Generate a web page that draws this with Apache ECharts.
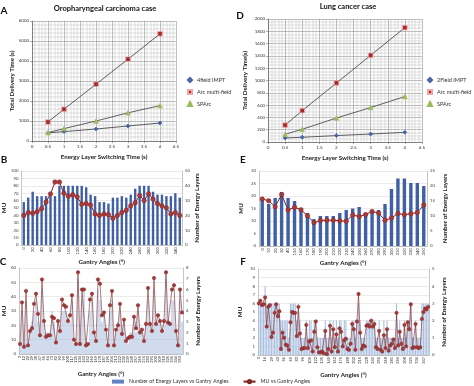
<!DOCTYPE html>
<html><head><meta charset="utf-8">
<script src="https://cdn.jsdelivr.net/npm/echarts@6/dist/echarts.min.js"></script>
<style>html,body{margin:0;padding:0;background:#fff}#c{width:474px;height:386px}</style>
</head><body><div id="c"></div>
<script>
// ---- Panel A / D data ----
const switchTimes = [0.5, 1, 2, 3, 4];
const a4fieldIMPT = [405, 470, 600, 750, 900];
const aArcMulti = [950, 1590, 2840, 4090, 5360];
const aSPArc = [420, 620, 1000, 1410, 1770];
const d2FieldIMPT = [66, 77, 104, 130, 157];
const dArcMulti = [275, 510, 960, 1410, 1860];
const dSPArc = [125, 207, 390, 560, 740];
// ---- Panel B ----
const bAngles = ['0','10','20','30','40','50','60','70','80','90','100','110','120','130','140','150','160','170','180','190','200','210','220','230','240','250','260','270','280','290','300','310','320','330','340','350'];
const bLayers = [29,32,36,33,33,33,33,33,40,40,40,40,40,40,39,34,33,29,29,28,32,32,33,32,34,38,40,40,40,36,34,34,33,33,35,32];
const bMU = [40,44,43,45,49,58,69,85,85,70,66,68,65,55,56,54,42,40,42,41,36,40,44,47,53,57,67,60,69,62,56,53,50,42,44,40];
// ---- Panel E ----
const eAngles = ['0','10','20','30','40','150','160','170','180','190','200','210','220','230','240','250','260','270','280','290','300','310','320','330','340','350'];
const eLayers = [16,14,16,18,16,15,12.5,11,9,10,10,10,11,12,12.5,13,11,12,12,14,19,22.5,22.5,21,21,20];
const eMU = [18.8,18.1,15.7,20.6,14.4,15.5,14.5,12.1,9.3,10.2,10.3,10.3,10.1,9.9,12.4,11.8,12.6,13.8,13.2,10.3,11.2,13.0,12.5,12.9,13.4,16.4];
// ---- Panel C ----
const cAngles = ['3','7','12','16','20','25','29','34','38','42','47','51','55','60','64','69','73','77','82','86','90','95','99','104','108','112','117','121','125','130','134','139','143','147','152','156','160','165','169','173','178','182','187','191','195','200','204','208','213','217','222','226','230','235','239','243','248','252','257','261','265','270','274','278','283','287','291','296','300','305','309','313','318','322','326','331','335','340','344','348','353','357'];
const cMU = [7,36,5,44,6,16,18,35,42,28,13,52,23,12,13,13,26,25,8,23,16,38,34,33,23,27,41,10,7,57,7,45,45,6,7,38,42,15,9,52,49,27,29,17,6,34,44,6,17,20,35,14,24,9,11,12,12,26,18,34,15,17,9,21,46,21,16,53,21,27,23,16,23,57,22,21,45,48,16,6,45,29];
const cLayers = [1,4,1,5,1,2,3,4,5,3,2,6,3,2,2,2,4,3,1,3,2,4,4,4,3,3,5,1,1,7,1,5,6,1,1,4,5,2,1,6,5,3,4,2,1,4,5,1,2,3,4,2,3,1,1,2,2,3,2,4,2,2,1,3,5,3,2,6,3,3,3,2,3,7,3,3,5,5,2,1,5,3];
// ---- Panel F ----
const fAngles = ['3','6','10','13','16','20','23','26','29','33','36','39','43','46','49','53','56','59','63','66','69','73','76','79','82','86','89','92','96','99','102','106','109','112','116','119','122','125','129','132','135','139','142','145','149','152','155','159','162','165','169','172','175','178','182','185','188','192','195','198','202','205','208','212','215','218','221','225','228','231','235','238','241','245','248','251','255','258','261','265','268','271','274','278','281','284','288','291','294','298','301','304','308','311','314','317','321','324','327','331','334','337','341','344','347','351','354','357'];
const fMU = [6.0,6.3,5.8,5.9,6.7,3.3,5.6,5.8,2.1,2.6,4.9,5.9,4.5,5.1,0.7,2.6,2.0,1.2,1.1,0.6,3.8,5.0,4.9,4.9,2.2,5.6,2.5,0.7,0.8,0.8,3.5,0.8,1.6,1.7,0.4,2.7,3.9,0.9,0.3,0.3,0.4,0.2,2.8,0.1,0.7,3.4,0.4,3.0,0.9,2.4,0.4,3.1,2.7,1.0,1.7,1.9,0.7,0.6,1.3,3.6,3.0,0.6,3.9,7.1,2.6,0.7,1.1,1.0,3.4,3.5,3.3,4.0,3.3,3.6,0.9,0.7,2.8,0.6,0.4,2.3,0.8,3.0,0.5,1.1,1.3,1.8,0.8,4.9,1.1,2.7,1.3,0.7,3.5,1.0,3.8,3.0,5.9,0.8,0.9,3.6,0.9,0.8,0.9,4.2,5.0,5.4,5.3,5.6];
const fLayers = [3,3,3,3,4,3,3,3,3,3,3,3,3,3,2,2,2,2,2,1,3,3,3,3,2,3,2,1,1,1,2,1,2,2,1,2,2,1,1,1,1,1,2,1,1,2,1,2,1,2,1,2,2,1,2,2,1,1,1,2,2,1,2,3,2,1,1,1,2,2,2,2,2,2,1,1,2,1,1,2,1,2,1,1,1,1,1,3,1,2,1,1,2,1,2,2,3,1,1,2,1,1,1,3,3,3,3,3];

const FONT = 'Lato';
const NAME_LAYERS = 'Number of Energy Layers vs Gantry Angles';
const NAME_MU = 'MU vs Gantry Angles';
const plain = v => String(v);

function pairs(xs, ys){ return xs.map((x,i)=>[x, ys[i]]); }

function valX(grid){
  return {type:'value', gridIndex:grid, min:0, max:4.5, interval:0.5,
    name:'Energy Layer Switching Time (s)', nameLocation:'middle', nameGap:13,
    nameTextStyle:{fontFamily:FONT, fontWeight:'bold', fontSize:6.2, color:'#222'},
    axisLine:{lineStyle:{color:'#555', width:0.6}}, axisTick:{show:true, length:2, lineStyle:{color:'#555',width:0.5}},
    axisLabel:{fontFamily:FONT, fontSize:4.6, color:'#333', margin:3, formatter:plain},
    splitLine:{show:true, lineStyle:{color:'#808080', width:0.5}},
    minorTick:{show:false, splitNumber:5},
    minorSplitLine:{show:true, lineStyle:{color:'#ababab', width:0.4}}};
}
function valY(grid, max, interval, minorN, name, gap){
  return {type:'value', gridIndex:grid, min:0, max:max, interval:interval,
    name:name, nameLocation:'middle', nameGap:gap, nameRotate:90,
    nameTextStyle:{fontFamily:FONT, fontWeight:'bold', fontSize:6.2, color:'#222'},
    axisLine:{show:true, lineStyle:{color:'#555', width:0.6}}, axisTick:{show:true, length:2, lineStyle:{color:'#555',width:0.5}},
    axisLabel:{fontFamily:FONT, fontSize:4.4, color:'#333', margin:3, formatter:plain},
    splitLine:{show:true, lineStyle:{color:'#808080', width:0.5}},
    minorTick:{show:false, splitNumber:minorN},
    minorSplitLine:{show:true, lineStyle:{color:'#ababab', width:0.4}}};
}
function catX(grid, data, interval, fs, gap){
  return {type:'category', gridIndex:grid, data:data,
    name:'Gantry Angles (°)', nameLocation:'middle', nameGap:gap,
    nameTextStyle:{fontFamily:FONT, fontWeight:'bold', fontSize:6.2, color:'#222'},
    axisLine:{lineStyle:{color:'#a0a0a0', width:0.6}}, axisTick:{show:false},
    axisLabel:{fontFamily:FONT, fontSize:fs, color:'#333', rotate:90, interval:interval, margin:2}};
}
function plainY(grid, max, interval, name, gap, pos){
  return {type:'value', gridIndex:grid, min:0, max:max, interval:interval, position:pos,
    name:name, nameLocation:'middle', nameGap:gap, nameRotate:90,
    nameTextStyle:{fontFamily:FONT, fontWeight:'bold', fontSize:6.2, color:'#222'},
    axisLine:{show:true, lineStyle:{color:'#a0a0a0', width:0.6}}, axisTick:{show:false},
    axisLabel:{fontFamily:FONT, fontSize:4.4, color:'#444', margin:3, formatter:plain},
    splitLine:{show:pos==='left', lineStyle:{color:'#d4d4d4', width:0.5}}};
}
function ptLine(name, x, y, data, symbol, size, color, border){
  return {type:'line', name:name, xAxisIndex:x, yAxisIndex:y, data:data, symbol:symbol, symbolSize:size,
    lineStyle:{color:'#3a3a3a', width:0.8}, itemStyle:{color:color, borderColor:border||color, borderWidth:0.8}, z:3};
}
function barS(x, y, data, w, color){
  return {type:'bar', name:NAME_LAYERS, xAxisIndex:x, yAxisIndex:y, data:data, barWidth:w,
    itemStyle:{color:color}, z:1};
}
function muLine(x, y, data, size, lw){
  return {type:'line', name:NAME_MU, xAxisIndex:x, yAxisIndex:y, data:data, symbol:'circle', symbolSize:size,
    showAllSymbol:true,
    lineStyle:{color:'#7e2222', width:lw}, itemStyle:{color:'#a83a3a', borderColor:'#7e2222', borderWidth:0.5}, z:3};
}
function txt(t, x, y, size, weight){
  return {type:'text', x:x, y:y, style:{text:t, fontFamily:FONT, fontSize:size, fontWeight:weight, fill:'#111', textAlign:'center', textVerticalAlign:'middle'}};
}

const chart = echarts.init(document.getElementById('c'), null, {renderer:'canvas'});
chart.setOption({
  animation:false,
  backgroundColor:'#ffffff',
  graphic:[
    txt('A', 4, 11, 10, 'bold'), txt('D', 240, 16, 10, 'bold'),
    txt('B', 4, 160, 10, 'bold'), txt('E', 243, 160, 10, 'bold'),
    txt('C', 3, 262, 10, 'bold'), txt('F', 243, 262, 10, 'bold'),
    txt('Oropharyngeal carcinoma case', 105, 9, 7.5, 'bold'),
    txt('Lung cancer case', 348, 7, 7.5, 'bold')
  ],
  grid:[
    {left:32, top:21, width:144, height:120},
    {left:268, top:19, width:154, height:123},
    {left:20, top:171, width:162, height:74},
    {left:259, top:171, width:168, height:75},
    {left:16, top:268, width:167, height:86},
    {left:258, top:269, width:171, height:86}
  ],
  xAxis:[
    valX(0), valX(1),
    catX(2, bAngles, 1, 4.3, 14),
    catX(3, eAngles, 0, 4.3, 14),
    catX(4, cAngles, 1, 3.9, 17),
    catX(5, fAngles, 3, 3.9, 17)
  ],
  yAxis:[
    valY(0, 6000, 1000, 5, 'Total Delivery Time (s)', 17),
    valY(1, 2000, 200, 4, 'Total Delivery Time(s)', 20),
    plainY(2, 100, 10, 'MU', 14, 'left'),
    plainY(2, 50, 10, 'Number of Energy Layers', 12, 'right'),
    plainY(3, 30, 5, 'MU', 15, 'left'),
    plainY(3, 25, 5, 'Number of Energy Layers', 15, 'right'),
    plainY(4, 60, 10, 'MU', 12, 'left'),
    plainY(4, 8, 1, 'Number of Energy Layers', 12, 'right'),
    plainY(5, 10, 1, 'MU', 15, 'left'),
    plainY(5, 5, 1, 'Number of Energy Layers', 12, 'right')
  ],
  legend:[
    {orient:'vertical', left:187, top:77, padding:0, itemWidth:4, itemHeight:4, itemGap:6,
      textStyle:{fontFamily:FONT, fontSize:5.5, color:'#333'},
      data:[{name:'4field IMPT', icon:'diamond'}, {name:'Arc multi-field', icon:'rect'}, {name:'SPArc', icon:'triangle'}]},
    {orient:'vertical', left:427, top:77, padding:0, itemWidth:4, itemHeight:4, itemGap:6,
      textStyle:{fontFamily:FONT, fontSize:5.5, color:'#333'},
      data:[{name:'2Field IMPT', icon:'diamond'}, {name:'Arc multi-field', icon:'rect'}, {name:'SPArc', icon:'triangle'}]},
    {orient:'horizontal', left:112, top:379, padding:0, itemWidth:12, itemHeight:4, itemGap:14,
      textStyle:{fontFamily:FONT, fontSize:5.3, color:'#333'},
      data:[{name:NAME_LAYERS, icon:'rect', itemStyle:{color:'#6483c6'}}, {name:NAME_MU}]}
  ],
  series:[
    ptLine('4field IMPT', 0, 0, pairs(switchTimes, a4fieldIMPT), 'diamond', 4, '#4662a8'),
    ptLine('Arc multi-field', 0, 0, pairs(switchTimes, aArcMulti), 'rect', 4.5, '#9e2a2b', '#f2a3a3'),
    ptLine('SPArc', 0, 0, pairs(switchTimes, aSPArc), 'triangle', 4.5, '#9bbb59'),
    ptLine('2Field IMPT', 1, 1, pairs(switchTimes, d2FieldIMPT), 'diamond', 4, '#4662a8'),
    ptLine('Arc multi-field', 1, 1, pairs(switchTimes, dArcMulti), 'rect', 4.5, '#9e2a2b', '#f2a3a3'),
    ptLine('SPArc', 1, 1, pairs(switchTimes, dSPArc), 'triangle', 4.5, '#9bbb59'),
    barS(2, 3, bLayers, 2.4, '#3f5fa6'),
    muLine(2, 2, bMU, 4.5, 1),
    barS(3, 5, eLayers, 3.4, '#3f5fa6'),
    muLine(3, 4, eMU, 4.5, 1),
    barS(4, 7, cLayers, 1.1, '#a9bfe0'),
    muLine(4, 6, cMU, 3.4, 0.6),
    barS(5, 9, fLayers, 1.1, '#a9bfe0'),
    muLine(5, 8, fMU, 3.4, 0.6)
  ]
});
</script></body></html>
